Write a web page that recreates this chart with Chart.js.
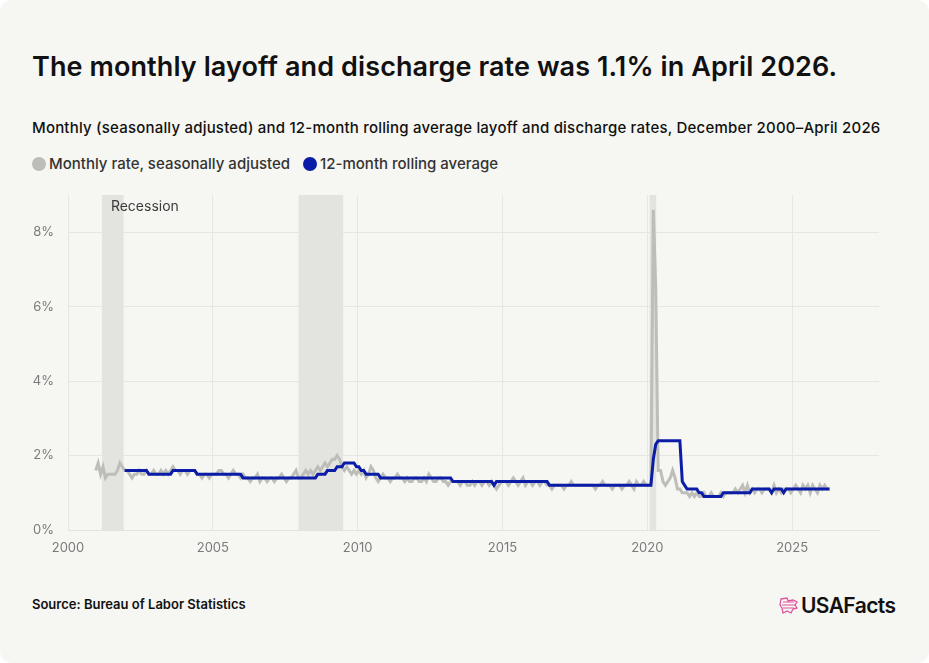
<!DOCTYPE html>
<html>
<head>
<meta charset="utf-8">
<script src="https://cdn.jsdelivr.net/npm/chart.js@4.4.1/dist/chart.umd.min.js"></script>
<style>
  html,body{margin:0;padding:0;background:#ffffff;}
  body{width:929px;height:663px;overflow:hidden;font-family:Inter,"Noto Sans",sans-serif;}
  #card{position:absolute;left:0;top:0;width:929px;height:663px;background:#f6f6f2;border-radius:12px;overflow:hidden;}
  #title{position:absolute;left:32px;top:50px;font-size:27px;font-weight:600;color:#111;letter-spacing:0.1px;white-space:nowrap;}
  #subtitle{position:absolute;left:32px;top:118px;font-size:15px;font-weight:500;color:#111;white-space:nowrap;letter-spacing:0.2px;}
  #legend{position:absolute;left:32px;top:154px;font-size:15px;font-weight:500;color:#333;white-space:nowrap;display:flex;align-items:center;}
  .dot{display:inline-block;width:14px;height:14px;border-radius:50%;margin-right:3px;}
  .item{display:flex;align-items:center;margin-right:13px;}
  #source{position:absolute;left:32px;top:596px;font-size:13px;font-weight:600;color:#111;letter-spacing:0px;}
  #logo{position:absolute;left:779px;top:593px;display:flex;align-items:center;font-size:21px;font-weight:600;color:#111;letter-spacing:-0.6px;}
  #chart{position:absolute;left:0;top:0;}
</style>
</head>
<body>
<div id="card">
  <div id="title">The monthly layoff and discharge rate was 1.1% in April 2026.</div>
  <div id="subtitle">Monthly (seasonally adjusted) and 12-month rolling average layoff and discharge rates, December 2000–April 2026</div>
  <div id="legend">
    <span class="item"><span class="dot" style="background:#bdbdb9"></span>Monthly rate, seasonally adjusted</span>
    <span class="item"><span class="dot" style="background:#0b1ca6"></span>12-month rolling average</span>
  </div>
  <canvas id="chart" width="929" height="570"></canvas>
  <div id="source">Source: Bureau of Labor Statistics</div>
  <div id="logo">
    <svg width="20" height="18" viewBox="0 0 20 18" style="margin-right:2px">
      <path d="M2 2 L8 1 L9 4 L14 3 L18 5 L16 8 L18 11 L14 12 L12 16 L8 14 L4 16 L3 11 L1 8 Z" fill="none" stroke="#e0559a" stroke-width="1.3"/>
      <path d="M4 5 L15 5 M3 8 L16 8 M4 11 L15 11" stroke="#e0559a" stroke-width="1"/>
    </svg>USAFacts
  </div>
</div>
<script>
// ---- Data ----
const firstYear = 2000;   // series start: December 2000
const firstMonth = 12;
const yearTicks = [2000, 2005, 2010, 2015, 2020, 2025];
const rateTicks = [0, 2, 4, 6, 8];

// Monthly layoff and discharge rate, seasonally adjusted (%), Dec 2000 – Apr 2026
const monthlyRate = [
  1.6,
  1.8,1.5,1.7,1.4,1.5,1.5,1.5,1.5,1.6,1.8,1.7,1.6,
  1.6,1.5,1.4,1.5,1.5,1.6,1.5,1.5,1.6,1.5,1.5,1.6,
  1.5,1.5,1.6,1.5,1.6,1.5,1.6,1.7,1.6,1.6,1.5,1.6,
  1.6,1.5,1.6,1.6,1.6,1.5,1.5,1.4,1.5,1.5,1.4,1.5,
  1.5,1.5,1.6,1.6,1.5,1.5,1.4,1.5,1.6,1.5,1.5,1.4,
  1.5,1.4,1.4,1.3,1.4,1.4,1.5,1.3,1.4,1.4,1.3,1.4,
  1.4,1.3,1.4,1.4,1.5,1.4,1.3,1.4,1.4,1.5,1.6,1.4,
  1.4,1.5,1.6,1.5,1.6,1.5,1.6,1.7,1.6,1.7,1.8,1.7,
  1.8,1.9,1.9,2.0,1.9,1.7,1.6,1.7,1.6,1.5,1.6,1.5,
  1.6,1.5,1.6,1.4,1.5,1.7,1.6,1.4,1.3,1.4,1.5,1.4,
  1.4,1.3,1.4,1.4,1.5,1.4,1.4,1.3,1.4,1.3,1.3,1.4,
  1.4,1.3,1.3,1.4,1.3,1.5,1.4,1.3,1.3,1.4,1.4,1.3,
  1.3,1.2,1.3,1.3,1.3,1.3,1.2,1.3,1.3,1.2,1.2,1.3,
  1.2,1.3,1.3,1.2,1.3,1.3,1.2,1.3,1.2,1.1,1.2,1.3,
  1.3,1.3,1.2,1.3,1.4,1.3,1.2,1.3,1.4,1.2,1.3,1.3,
  1.2,1.3,1.3,1.2,1.3,1.3,1.2,1.2,1.1,1.2,1.2,1.2,
  1.2,1.1,1.2,1.2,1.3,1.2,1.2,1.2,1.2,1.2,1.2,1.2,
  1.2,1.2,1.1,1.2,1.2,1.3,1.2,1.2,1.2,1.1,1.2,1.2,
  1.2,1.1,1.2,1.2,1.3,1.2,1.1,1.3,1.2,1.2,1.3,1.2,
  1.2,1.2,8.6,6.5,1.6,1.6,1.3,1.2,1.3,1.4,1.6,1.4,
  1.1,1.1,1.0,1.0,1.0,0.9,1.0,0.9,1.0,0.9,0.9,1.0,
  0.9,0.9,1.0,0.9,0.9,0.9,1.0,0.9,1.0,1.0,1.0,1.0,
  1.1,1.0,1.1,1.2,1.0,1.2,1.0,1.1,1.0,1.1,1.1,1.0,
  1.1,1.1,1.1,1.0,1.2,1.0,1.1,1.0,1.1,1.1,1.1,1.0,
  1.1,1.2,1.1,1.0,1.2,1.1,1.2,1.0,1.2,1.1,1.0,1.2,
  1.1,1.2,1.1,1.1
];

// 12-month rolling average (%), Dec 2000 – Apr 2026 (first value available Dec 2001)
const rollingAvg = [
  null,
  null,null,null,null,null,null,null,null,null,null,null,1.6,
  1.6,1.6,1.6,1.6,1.6,1.6,1.6,1.6,1.6,1.5,1.5,1.5,
  1.5,1.5,1.5,1.5,1.5,1.5,1.5,1.6,1.6,1.6,1.6,1.6,
  1.6,1.6,1.6,1.6,1.6,1.5,1.5,1.5,1.5,1.5,1.5,1.5,
  1.5,1.5,1.5,1.5,1.5,1.5,1.5,1.5,1.5,1.5,1.5,1.5,
  1.4,1.4,1.4,1.4,1.4,1.4,1.4,1.4,1.4,1.4,1.4,1.4,
  1.4,1.4,1.4,1.4,1.4,1.4,1.4,1.4,1.4,1.4,1.4,1.4,
  1.4,1.4,1.4,1.4,1.4,1.4,1.4,1.5,1.5,1.5,1.5,1.6,
  1.6,1.6,1.6,1.7,1.7,1.7,1.8,1.8,1.8,1.8,1.8,1.7,
  1.7,1.6,1.6,1.5,1.5,1.5,1.5,1.5,1.5,1.4,1.4,1.4,
  1.4,1.4,1.4,1.4,1.4,1.4,1.4,1.4,1.4,1.4,1.4,1.4,
  1.4,1.4,1.4,1.4,1.4,1.4,1.4,1.4,1.4,1.4,1.4,1.4,
  1.4,1.4,1.4,1.3,1.3,1.3,1.3,1.3,1.3,1.3,1.3,1.3,
  1.3,1.3,1.3,1.3,1.3,1.3,1.3,1.3,1.2,1.3,1.3,1.3,
  1.3,1.3,1.3,1.3,1.3,1.3,1.3,1.3,1.3,1.3,1.3,1.3,
  1.3,1.3,1.3,1.3,1.3,1.3,1.3,1.2,1.2,1.2,1.2,1.2,
  1.2,1.2,1.2,1.2,1.2,1.2,1.2,1.2,1.2,1.2,1.2,1.2,
  1.2,1.2,1.2,1.2,1.2,1.2,1.2,1.2,1.2,1.2,1.2,1.2,
  1.2,1.2,1.2,1.2,1.2,1.2,1.2,1.2,1.2,1.2,1.2,1.2,
  1.2,1.2,1.9,2.3,2.4,2.4,2.4,2.4,2.4,2.4,2.4,2.4,
  2.4,2.4,1.3,1.2,1.1,1.1,1.1,1.1,1.1,1.0,1.0,0.9,
  0.9,0.9,0.9,0.9,0.9,0.9,0.9,1.0,1.0,1.0,1.0,1.0,
  1.0,1.0,1.0,1.0,1.0,1.0,1.0,1.1,1.1,1.1,1.1,1.1,
  1.1,1.1,1.1,1.0,1.1,1.1,1.1,1.1,1.0,1.1,1.1,1.1,
  1.1,1.1,1.1,1.1,1.1,1.1,1.1,1.1,1.1,1.1,1.1,1.1,
  1.1,1.1,1.1,1.1
];

// Recession periods (decimal years)
const recessionStart = [2001.17, 2007.96, 2020.08];
const recessionEnd   = [2001.92, 2009.50, 2020.31];

// ---- Build datasets ----
function monthPos(i){ // i = index from first month
  const m = (firstMonth - 1) + i;
  return firstYear + (m + 0.5) / 12;
}
const monthlyPts = monthlyRate.map((v,i)=>({x:monthPos(i), y:v}));
const rollingPts = rollingAvg.map((v,i)=>({x:monthPos(i), y:v}));

const recessionPlugin = {
  id:'recessions',
  beforeDatasetsDraw(chart){
    const {ctx, chartArea:a, scales:{x}} = chart;
    ctx.save();
    ctx.fillStyle = '#e3e3df';
    for(let k=0;k<recessionStart.length;k++){
      const x0 = x.getPixelForValue(recessionStart[k]);
      const x1 = x.getPixelForValue(recessionEnd[k]);
      ctx.fillRect(x0, a.top, x1-x0, a.bottom-a.top);
    }
    ctx.fillStyle = '#3a3a3a';
    ctx.font = '400 14px Inter, "Noto Sans", sans-serif';
    ctx.textBaseline = 'middle';
    ctx.fillText('Recession', x.getPixelForValue(recessionStart[0]) + 9, a.top + 12);
    ctx.restore();
  }
};

new Chart(document.getElementById('chart'), {
  type:'line',
  data:{datasets:[
    {label:'12-month rolling average', data:rollingPts, borderColor:'#0b1ca6', borderWidth:3, pointRadius:0, tension:0, spanGaps:false, order:1},
    {label:'Monthly rate, seasonally adjusted', data:monthlyPts, borderColor:'#bdbdb9', borderWidth:3, pointRadius:0, tension:0, order:2}
  ]},
  options:{
    responsive:false,
    devicePixelRatio:1,
    animation:false,
    layout:{padding:{top:195, right:50, left:0, bottom:0}},
    plugins:{legend:{display:false}, tooltip:{enabled:false}},
    scales:{
      x:{
        type:'linear', min:2000, max:2028,
        afterBuildTicks(s){ s.ticks = yearTicks.map(v=>({value:v})); },
        afterFit(s){ s.height = 40; },
        ticks:{color:'#7a7a7a', font:{family:'Inter', size:13}, padding:10, maxRotation:0, callback:v=>String(v)},
        grid:{color:'#e6e6e2', lineWidth:1, drawTicks:false},
        border:{color:'#e2e2de'}
      },
      y:{
        min:0, max:9,
        afterBuildTicks(s){ s.ticks = rateTicks.map(v=>({value:v})); },
        afterFit(s){ s.width = 68; },
        ticks:{color:'#7a7a7a', font:{family:'Inter', size:13}, padding:14, callback:v=>v+'%'},
        grid:{color:'#e6e6e2', lineWidth:1, drawTicks:false},
        border:{display:false}
      }
    }
  },
  plugins:[recessionPlugin]
});
</script>
</body>
</html>
